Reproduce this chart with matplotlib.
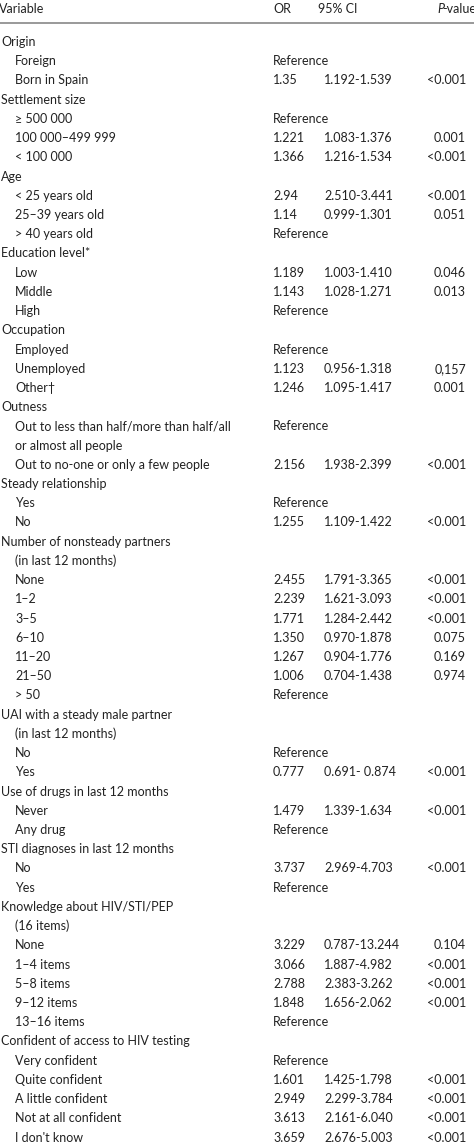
import matplotlib
matplotlib.use("Agg")
import matplotlib.pyplot as plt

# (label, indent level, OR, CI, p)
variables = [
    "Origin", "Foreign", "Born in Spain",
    "Settlement size", "\u2265 500 000", "100 000\u2013499 999", "< 100 000",
    "Age", "< 25 years old", "25\u201339 years old", "> 40 years old",
    "Education level*", "Low", "Middle", "High",
    "Occupation", "Employed", "Unemployed", "Other\u2020",
    "Outness", "Out to less than half/more than half/all", "or almost all people",
    "Out to no-one or only a few people",
    "Steady relationship", "Yes", "No",
    "Number of nonsteady partners", "(in last 12 months)",
    "None", "1\u20132", "3\u20135", "6\u201310", "11\u201320", "21\u201350", "> 50",
    "UAI with a steady male partner", "(in last 12 months)", "No", "Yes",
    "Use of drugs in last 12 months", "Never", "Any drug",
    "STI diagnoses in last 12 months", "No", "Yes",
    "Knowledge about HIV/STI/PEP", "(16 items)",
    "None", "1\u20134 items", "5\u20138 items", "9\u201312 items", "13\u201316 items",
    "Confident of access to HIV testing", "Very confident", "Quite confident",
    "A little confident", "Not at all confident", "I don't know",
]
indent = [0, 1, 1,
          0, 1, 1, 1,
          0, 1, 1, 1,
          0, 1, 1, 1,
          0, 1, 1, 1,
          0, 1, 1, 1,
          0, 1, 1,
          0, 1, 1, 1, 1, 1, 1, 1, 1,
          0, 1, 1, 1,
          0, 1, 1,
          0, 1, 1,
          0, 1, 1, 1, 1, 1, 1,
          0, 1, 1, 1, 1, 1]
odds = ["", "Reference", "1.35",
        "", "Reference", "1.221", "1.366",
        "", "2.94", "1.14", "Reference",
        "", "1.189", "1.143", "Reference",
        "", "Reference", "1.123", "1.246",
        "", "Reference", "", "2.156",
        "", "Reference", "1.255",
        "", "", "2.455", "2.239", "1.771", "1.350", "1.267", "1.006", "Reference",
        "", "", "Reference", "0.777",
        "", "1.479", "Reference",
        "", "3.737", "Reference",
        "", "", "3.229", "3.066", "2.788", "1.848", "Reference",
        "", "Reference", "1.601", "2.949", "3.613", "3.659"]
ci = ["", "", "1.192-1.539",
      "", "", "1.083-1.376", "1.216-1.534",
      "", "2.510-3.441", "0.999-1.301", "",
      "", "1.003-1.410", "1.028-1.271", "",
      "", "", "0.956-1.318", "1.095-1.417",
      "", "", "", "1.938-2.399",
      "", "", "1.109-1.422",
      "", "", "1.791-3.365", "1.621-3.093", "1.284-2.442", "0.970-1.878",
      "0.904-1.776", "0.704-1.438", "",
      "", "", "", "0.691- 0.874",
      "", "1.339-1.634", "",
      "", "2.969-4.703", "",
      "", "", "0.787-13.244", "1.887-4.982", "2.383-3.262", "1.656-2.062", "",
      "", "", "1.425-1.798", "2.299-3.784", "2.161-6.040", "2.676-5.003"]
pvals = ["", "", "<0.001",
         "", "", "0.001", "<0.001",
         "", "<0.001", "0.051", "",
         "", "0.046", "0.013", "",
         "", "", "0,157", "0.001",
         "", "", "", "<0.001",
         "", "", "<0.001",
         "", "", "<0.001", "<0.001", "<0.001", "0.075", "0.169", "0.974", "",
         "", "", "", "<0.001",
         "", "<0.001", "",
         "", "<0.001", "",
         "", "", "0.104", "<0.001", "<0.001", "<0.001", "",
         "", "", "<0.001", "<0.001", "<0.001", "<0.001"]

W, H = 474, 1147
fig = plt.figure(figsize=(W / 100, H / 100), dpi=100)
ax = fig.add_axes([0, 0, 1, 1])
ax.set_xlim(0, W)
ax.set_ylim(H, 0)
ax.axis("off")

plt.rcParams["font.family"] = ["Lato", "DejaVu Sans"]
fs = 9.0
col = "#222222"

# header
ax.text(-1, 9, "Variable", fontsize=fs, va="center", color=col)
ax.text(273, 9, "OR", fontsize=fs, va="center", color=col)
ax.text(318, 9, "95% CI", fontsize=fs, va="center", color=col)
ax.text(476, 9, "-value", fontsize=fs, va="center", ha="right", color=col)
ax.text(444.5, 9, "P", fontsize=fs, va="center", ha="right", style="italic", color=col)
ax.plot([0, W], [23, 23], color="#888888", lw=1.2)

y0, dy = 42, 19.22
for i, name in enumerate(variables):
    y = y0 + i * dy
    ax.text(1 + 14 * indent[i], y, name, fontsize=fs, va="center", color=col)
    ax.text(273, y, odds[i], fontsize=fs, va="center", color=col)
    ax.text(324, y, ci[i], fontsize=fs, va="center", color=col)
    ax.text(466, y, pvals[i], fontsize=fs, va="center", ha="right", color=col)

fig.savefig("out.png", dpi=100)
